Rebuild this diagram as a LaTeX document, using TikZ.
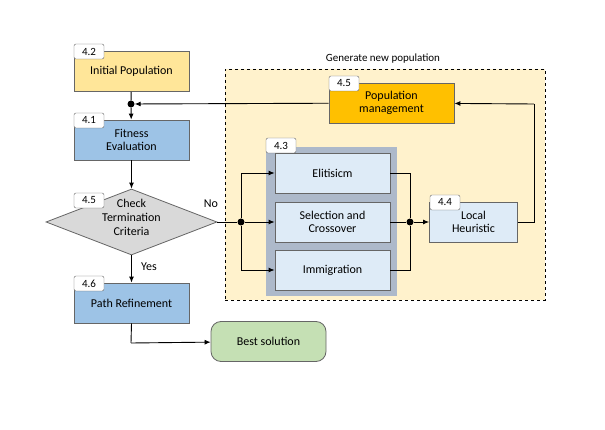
\documentclass[tikz,border=0pt]{standalone}
\usepackage{fontspec}
\setmainfont{Carlito}
\usetikzlibrary{shapes.geometric,arrows.meta}
\definecolor{yel}{HTML}{FFE699}
\definecolor{blu}{HTML}{9DC3E6}
\definecolor{gry}{HTML}{D9D9D9}
\definecolor{grn}{HTML}{C5E0B4}
\definecolor{bg}{HTML}{FFF2CC}
\definecolor{org}{HTML}{FFC000}
\definecolor{grp}{HTML}{ADB9CA}
\definecolor{lb}{HTML}{DEEBF7}
\begin{document}
\begin{tikzpicture}[x=1pt,y=-1pt,
  box/.style={draw=black!60,line width=0.8pt,minimum width=115pt,minimum height=40pt,align=center,font=\fontsize{12}{13}\selectfont,inner sep=1pt},
  tag/.style={draw=black!60,fill=white,rounded corners=2pt,minimum width=30pt,minimum height=15pt,inner sep=0pt,font=\fontsize{11}{12}\selectfont},
  arr/.style={-{Latex[length=6pt,width=5pt]},line width=0.9pt},
  ln/.style={line width=0.9pt},
  dot/.style={circle,fill=black,inner sep=0pt,minimum size=7pt}]
\useasboundingbox (0,0) rectangle (605,430);
\node[draw,dashed,fill=bg,minimum width=320pt,minimum height=231pt,inner sep=0pt] (gen) at (385,184.5) {};
\node[font=\fontsize{11}{12}\selectfont] (gl) at (383,59) {Generate new population};
\node[box,fill=yel] (init) at (131.5,71.5) {Initial Population};
\node[tag] (t42) at (89,51.5) {4.2};
\node[box,fill=blu] (fit) at (131.5,140) {Fitness\\Evaluation};
\node[tag] (t41) at (89,120.5) {4.1};
\node[dot] (d1) at (131,104) {};
\node[diamond,aspect=2.6,draw=black!60,line width=0.8pt,fill=gry,minimum width=171pt,minimum height=66pt,inner sep=0pt,align=center,font=\fontsize{12}{13}\selectfont] (chk) at (131.5,222) {};
\node[align=center,font=\fontsize{12}{14}\selectfont] (chkt) at (131.5,217) {Check\\Termination\\Criteria};
\node[tag] (t45) at (89,200.5) {4.5};
\node[box,fill=blu] (path) at (131.5,303) {Path Refinement};
\node[tag] (t46) at (89,283.5) {4.6};
\node[box,fill=grn,rounded corners=10pt] (best) at (268.5,341.5) {Best solution};
\node[box,fill=org,minimum width=125pt] (pop) at (391.5,103) {Population\\management};
\node[tag] (t45b) at (344,83.5) {4.5};
\node[fill=grp,minimum width=131pt,minimum height=149pt,inner sep=0pt] (grp) at (331.5,221.5) {};
\node[tag] (t43) at (281,145.5) {4.3};
\node[box,fill=lb] (eli) at (332.5,173) {Elitisicm};
\node[box,fill=lb] (sel) at (332.5,222) {Selection and\\Crossover};
\node[box,fill=lb] (imm) at (332.5,270) {Immigration};
\node[box,fill=lb,minimum width=88pt] (loc) at (473.5,222) {Local\\Heuristic};
\node[tag] (t44) at (445,202.5) {4.4};
\node[dot] (dl) at (241,222) {};
\node[dot] (dr) at (410,222) {};
\coordinate (c1) at (534,222);
\coordinate (c2) at (534,104);
\coordinate (c3) at (131,343);
\node[font=\fontsize{12}{13}\selectfont] (no) at (211,204) {No};
\node[font=\fontsize{12}{13}\selectfont] (yes) at (149,267) {Yes};
% connectors
\draw[ln] (init) -- (d1);
\draw[arr] (d1) -- (fit);
\draw[arr] (pop) -- (d1);
\draw[arr] (fit) -- (chk);
\draw[arr] (chk) -- (path);
\draw[ln] (path.south) -- (c3);
\draw[arr] (c3) -- (best);
\draw[ln] (chk.east) -- (dl);
\draw[arr] (dl) -- (sel);
\draw[arr] (dl) |- (eli);
\draw[arr] (dl) |- (imm);
\draw[ln] (eli) -| (dr);
\draw[ln] (imm) -| (dr);
\draw[ln] (sel) -- (dr);
\draw[arr] (dr) -- (loc);
\draw[ln] (loc) -- (c1) -- (c2);
\draw[arr] (c2) -- (pop);
\end{tikzpicture}
\end{document}
